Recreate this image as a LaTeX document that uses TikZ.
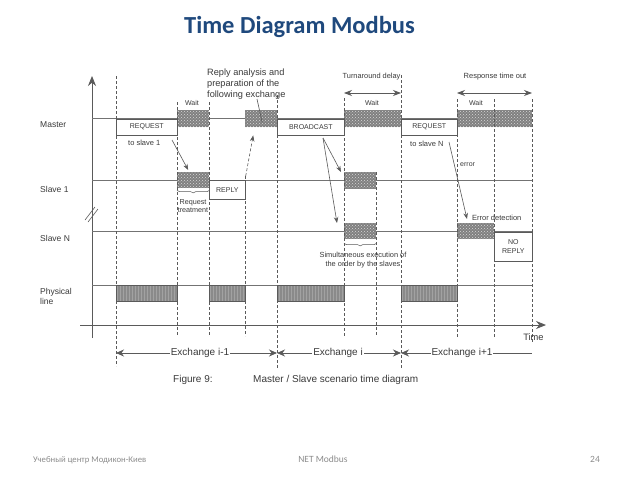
\documentclass[tikz,border=0pt]{standalone}
\usepackage{fontspec}
\setmainfont{Liberation Sans}
\newfontfamily\calib{Carlito}
\usetikzlibrary{arrows.meta,patterns,decorations.pathreplacing}
\definecolor{ln}{HTML}{5A5A5A}
\definecolor{tx}{HTML}{3A3A3A}
\definecolor{shd}{HTML}{808080}
\definecolor{phs}{HTML}{8A8A8A}
\definecolor{phl}{HTML}{A2A2A2}
\definecolor{ttl}{HTML}{1F497D}
\definecolor{ftr}{HTML}{8C8C8C}
\tikzset{
  axis/.style={draw=ln, line width=0.9pt, -{Stealth[length=10pt,width=8pt]}},
  rowline/.style={draw=ln!85, line width=0.7pt},
  dsh/.style={draw=ln, line width=0.75pt, dash pattern=on 3pt off 2pt},
  msgbox/.style={draw=ln, fill=white, line width=0.7pt, inner sep=0pt, text=tx,
    font=\fontsize{7}{8.5}\selectfont, anchor=north west, align=center},
  blk/.style={preaction={fill=shd}, pattern=crosshatch dots, pattern color=white!70!gray,
    inner sep=0pt, anchor=north west},
  phys/.style={preaction={fill=phs}, pattern=vertical lines, pattern color=phl,
    draw=ln, line width=0.7pt, inner sep=0pt, anchor=north west},
  lbl/.style={inner sep=0pt, text=tx, font=\fontsize{7}{8.5}\selectfont},
  rowlbl/.style={inner sep=0pt, text=tx, anchor=west, align=left, font=\fontsize{8.5}{10}\selectfont},
  xlbl/.style={inner sep=1pt, fill=white, text=tx, font=\fontsize{10}{12}\selectfont},
  ptr/.style={draw=ln, line width=0.6pt, -{Stealth[length=6pt,width=4.5pt]}},
  xarr/.style={draw=ln, line width=0.8pt},
  brc/.style={draw=ln, line width=0.5pt, decorate, decoration={brace, mirror, amplitude=2.5pt}},
  foot/.style={inner sep=0pt, text=ftr, font=\calib\fontsize{9.5}{11}\selectfont},
}
\begin{document}
\begin{tikzpicture}[x=1pt,y=-1pt]
\useasboundingbox (0,0) rectangle (638,479);
\fill[white] (0,0) rectangle (638,479);

% title
\node[anchor=base, inner sep=0pt, font=\calib\bfseries\fontsize{24.5}{28}\selectfont, text=ttl] (title) at (299.5,33) {Time Diagram Modbus};

% axes
\coordinate (vbot) at (92,338); \coordinate (vtop) at (92,76);
\draw[axis] (vbot) -- (vtop);
\coordinate (hl) at (80,325); \coordinate (hr) at (546,325);
\draw[axis] (hl) -- (hr);
\draw[draw=ln, line width=0.6pt] (85,220) -- (95,207) (88,222) -- (98,209);

% row lines
\foreach \y in {118.5,180,231.5,285} \draw[rowline] (92,\y) -- (532,\y);

% shaded blocks
\node[blk, minimum width=32pt, minimum height=17pt] (w1) at (177,110) {};
\node[blk, minimum width=32pt, minimum height=17pt] (ra) at (245,110) {};
\node[blk, minimum width=57pt, minimum height=17pt] (w2) at (344,110) {};
\node[blk, minimum width=75pt, minimum height=17pt] (w3) at (457,110) {};
\node[blk, minimum width=32pt, minimum height=16pt] (rt) at (177,172) {};
\node[blk, minimum width=32pt, minimum height=16.5pt] (sx1) at (344,172) {};
\node[blk, minimum width=32pt, minimum height=16pt] (sxn) at (344,223) {};
\node[blk, minimum width=37pt, minimum height=16pt] (ed) at (457,223) {};

% physical line blocks
\node[phys, minimum width=61pt, minimum height=15.5pt] (p1) at (116,285) {};
\node[phys, minimum width=36pt, minimum height=15.5pt] (p2) at (209,285) {};
\node[phys, minimum width=67pt, minimum height=15.5pt] (p3) at (277,285) {};
\node[phys, minimum width=56pt, minimum height=15.5pt] (p4) at (401,285) {};

% message boxes
\node[msgbox, minimum width=61pt, minimum height=16.5pt] (req1) at (116,118.5) {REQUEST};
\node[msgbox, minimum width=36pt, minimum height=18.5pt] (reply) at (209,180) {REPLY};
\node[msgbox, minimum width=67pt, minimum height=16.5pt] (bcast) at (277,118.5) {BROADCAST};
\node[msgbox, minimum width=56pt, minimum height=16.5pt] (req2) at (401,118.5) {REQUEST};
\node[msgbox, minimum width=38pt, minimum height=29.5pt] (norep) at (494,231.5) {NO\\REPLY};

% dashed time marks
\foreach \x/\a/\b in {116/76/366, 177/102/336, 209/102/336, 245/176/336, 277/95/368,
  344/98/336, 376/172/336, 401/75/368, 457/99/337, 494/99/337, 532/99/342}
  \draw[dsh] (\x,\a) -- (\x,\b);

% row labels
\node[rowlbl] (lm) at (40,125) {Master};
\node[rowlbl] (ls1) at (40,189) {Slave 1};
\node[rowlbl] (lsn) at (40,238) {Slave N};
\node[rowlbl] (lph) at (40,296) {Physical\\line};

% small labels
\node[lbl] (wt1) at (192,103) {Wait};
\node[lbl] (wt2) at (372,103) {Wait};
\node[lbl] (wt3) at (476,103) {Wait};
\node[lbl, anchor=west, align=left, font=\fontsize{9.2}{11.3}\selectfont] (ratxt) at (207,84)
  {Reply analysis and\\preparation of the\\following exchange};
\node[lbl, font=\fontsize{7.4}{9}\selectfont] (tat) at (371.5,77) {Turnaround delay};
\node[lbl, font=\fontsize{7.5}{9}\selectfont] (rto) at (495,77) {Response time out};
\node[lbl, anchor=west, font=\fontsize{7.5}{9}\selectfont] (ts1) at (128,143) {to slave 1};
\node[lbl, anchor=west, font=\fontsize{7.5}{9}\selectfont] (tsn) at (410,144) {to slave N};
\node[lbl, anchor=west] (err) at (460,165) {error};
\node[lbl, anchor=west, font=\fontsize{7.5}{9}\selectfont] (edt) at (472,218) {Error detection};
\node[lbl, align=center, font=\fontsize{7.2}{8}\selectfont] (rqt) at (193,206) {Request\\treatment};
\node[lbl, align=center, font=\fontsize{7.4}{8.6}\selectfont] (sim) at (363,260)
  {Simultaneous execution of\\the order by the slaves};
\node[lbl, font=\fontsize{9.3}{11}\selectfont] (time) at (533.5,337) {Time};

% braces
\draw[brc] ([yshift=-2pt]rt.south west) -- ([yshift=-2pt]rt.south east);
\draw[brc] ([yshift=-4pt]sxn.south west) -- ([yshift=-4pt]sxn.south east);

% pointers
\coordinate (a1) at (172,140);
\draw[ptr] (a1) -- ([xshift=-5pt,yshift=2pt]rt.north);
\draw[ptr, dash pattern=on 3pt off 2pt] ([yshift=4pt]reply.north east) -- ([xshift=-8pt,yshift=-8pt]ra.south);
\coordinate (a2) at (257,99);
\draw[draw=ln, line width=0.6pt] (a2) -- ([xshift=1pt,yshift=5pt]ra.south);
\coordinate (a3) at (323,138);
\draw[ptr] (a3) -- ([xshift=-3pt]sx1.north west);
\draw[ptr] (a3) -- ([xshift=-7pt]sxn.north west);
\coordinate (a4) at (449,142);
\draw[ptr] (a4) -- ([xshift=10pt,yshift=4pt]ed.north west);

% delay arrows
\coordinate (td1) at (344,93); \coordinate (td2) at (401,93);
\draw[xarr, {Stealth[length=8pt,width=6pt]}-{Stealth[length=8pt,width=6pt]}] (td1) -- (td2);
\coordinate (rt1) at (457,93); \coordinate (rt2) at (532,93);
\draw[xarr, {Stealth[length=8pt,width=6pt]}-{Stealth[length=8pt,width=6pt]}] (rt1) -- (rt2);

% exchanges
\coordinate (e1) at (116,353); \coordinate (e2) at (277,353);
\coordinate (e3) at (401,353); \coordinate (e4) at (532,353);
\draw[xarr, {Stealth[length=8pt,width=7pt]}-{Stealth[length=8pt,width=7pt]}] (e1) -- (e2);
\draw[xarr, {Stealth[length=8pt,width=7pt]}-{Stealth[length=8pt,width=7pt]}] (e2) -- (e3);
\draw[xarr, {Stealth[length=8pt,width=7pt]}-] (e3) -- (e4);
\node[xlbl] (x1) at (200,353) {Exchange i-1};
\node[xlbl] (x2) at (338,353) {Exchange i};
\node[xlbl] (x3) at (462,353) {Exchange i+1};

% caption
\node[lbl, anchor=west, font=\fontsize{10}{12}\selectfont] (fig) at (173,380) {Figure 9:};
\node[lbl, anchor=west, font=\fontsize{10}{12}\selectfont] (cap) at (253,380) {Master / Slave scenario time diagram};

% footer
\node[foot, anchor=base west, font=\calib\fontsize{8.7}{11}\selectfont] (f1) at (33,462) {Учебный центр Модикон-Киев};
\node[foot, anchor=base] (f2) at (323,462) {NET Modbus};
\node[foot, anchor=base] (f3) at (595,462) {24};
\end{tikzpicture}
\end{document}
